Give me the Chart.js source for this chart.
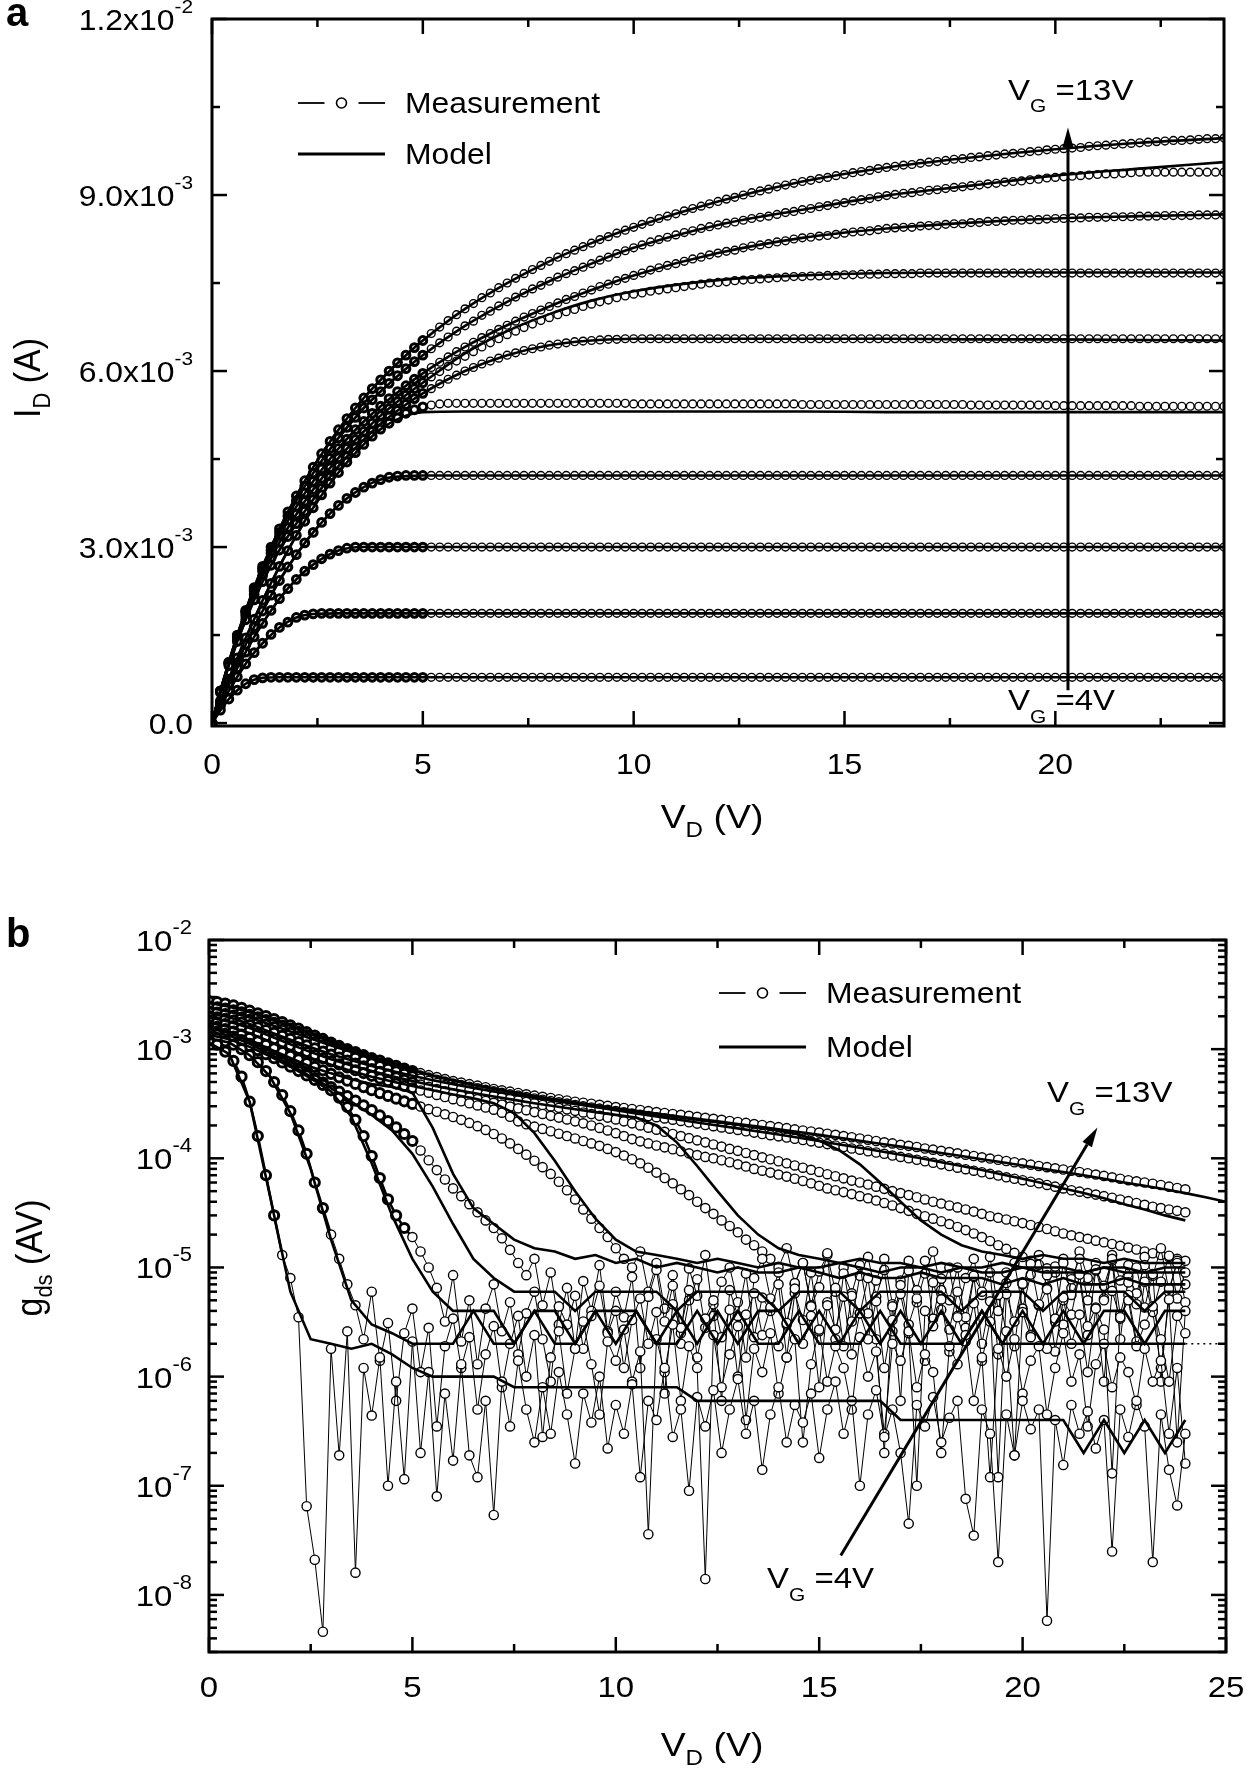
<!DOCTYPE html>
<html>
<head>
<meta charset="utf-8">
<script src="https://cdn.jsdelivr.net/npm/chart.js@4.4.1/dist/chart.umd.min.js"></script>
<style>
html,body{margin:0;padding:0;background:#fff;}
#wrap{position:relative;width:1246px;height:1770px;}
canvas{position:absolute;left:0;top:0;}
</style>
</head>
<body>
<div id="wrap">
<canvas id="chartA" width="1246" height="1770"></canvas>
<canvas id="chartB" width="1246" height="1770"></canvas>
</div>
<script>
// drain voltage grid of the measurement (V)
const VD = [
0,0.2,0.4,0.6,0.8,1,1.2,1.4,1.6,1.8,
2,2.2,2.4,2.6,2.8,3,3.2,3.4,3.6,3.8,
4,4.2,4.4,4.6,4.8,5,5.2,5.4,5.6,5.8,
6,6.2,6.4,6.6,6.8,7,7.2,7.4,7.6,7.8,
8,8.2,8.4,8.6,8.8,9,9.2,9.4,9.6,9.8,
10,10.2,10.4,10.6,10.8,11,11.2,11.4,11.6,11.8,
12,12.2,12.4,12.6,12.8,13,13.2,13.4,13.6,13.8,
14,14.2,14.4,14.6,14.8,15,15.2,15.4,15.6,15.8,
16,16.2,16.4,16.6,16.8,17,17.2,17.4,17.6,17.8,
18,18.2,18.4,18.6,18.8,19,19.2,19.4,19.6,19.8,
20,20.2,20.4,20.6,20.8,21,21.2,21.4,21.6,21.8,
22,22.2,22.4,22.6,22.8,23,23.2,23.4,23.6,23.8,
24];

// panel a, measured I_D in mA, one array per V_G
const idMeas4 = [
0,0.22,0.41,0.56,0.67,0.74,0.77,0.78,0.78,0.78,
0.78,0.78,0.78,0.78,0.78,0.78,0.78,0.78,0.78,0.78,
0.78,0.78,0.78,0.78,0.78,0.78,0.78,0.78,0.78,0.78,
0.78,0.78,0.78,0.78,0.78,0.78,0.78,0.78,0.78,0.78,
0.78,0.78,0.78,0.78,0.78,0.78,0.78,0.78,0.78,0.78,
0.78,0.78,0.78,0.78,0.78,0.78,0.78,0.78,0.78,0.78,
0.78,0.78,0.78,0.78,0.78,0.78,0.78,0.78,0.78,0.78,
0.78,0.78,0.78,0.78,0.78,0.78,0.78,0.78,0.78,0.78,
0.78,0.78,0.78,0.78,0.78,0.78,0.78,0.78,0.78,0.78,
0.78,0.78,0.78,0.78,0.78,0.78,0.78,0.78,0.78,0.78,
0.78,0.78,0.78,0.78,0.78,0.78,0.78,0.78,0.78,0.78,
0.78,0.78,0.78,0.78,0.78,0.78,0.78,0.78,0.78,0.78,
0.78];
const idMeas5 = [
0,0.29,0.55,0.79,1.01,1.20,1.36,1.51,1.63,1.72,
1.80,1.84,1.86,1.87,1.87,1.87,1.87,1.87,1.87,1.87,
1.87,1.87,1.87,1.87,1.87,1.87,1.87,1.87,1.87,1.87,
1.87,1.87,1.87,1.87,1.87,1.87,1.87,1.87,1.87,1.87,
1.87,1.87,1.87,1.87,1.87,1.87,1.87,1.87,1.87,1.87,
1.87,1.87,1.87,1.87,1.87,1.87,1.87,1.87,1.87,1.87,
1.87,1.87,1.87,1.87,1.87,1.87,1.87,1.87,1.87,1.87,
1.87,1.87,1.87,1.87,1.87,1.87,1.87,1.87,1.87,1.87,
1.87,1.87,1.87,1.87,1.87,1.87,1.87,1.87,1.87,1.87,
1.87,1.87,1.87,1.87,1.87,1.87,1.87,1.87,1.87,1.87,
1.87,1.87,1.87,1.87,1.87,1.87,1.87,1.87,1.87,1.87,
1.87,1.87,1.87,1.87,1.87,1.87,1.87,1.87,1.87,1.87,
1.87];
const idMeas6 = [
0,0.33,0.65,0.94,1.21,1.47,1.70,1.92,2.12,2.29,
2.45,2.59,2.70,2.80,2.88,2.94,2.98,3.00,3.00,3.00,
3.00,3.00,3.00,3.00,3.00,3.00,3.00,3.00,3.00,3.00,
3.00,3.00,3.00,3.00,3.00,3.00,3.00,3.00,3.00,3.00,
3.00,3.00,3.00,3.00,3.00,3.00,3.00,3.00,3.00,3.00,
3.00,3.00,3.00,3.00,3.00,3.00,3.00,3.00,3.00,3.00,
3.00,3.00,3.00,3.00,3.00,3.00,3.00,3.00,3.00,3.00,
3.00,3.00,3.00,3.00,3.00,3.00,3.00,3.00,3.00,3.00,
3.00,3.00,3.00,3.00,3.00,3.00,3.00,3.00,3.00,3.00,
3.00,3.00,3.00,3.00,3.00,3.00,3.00,3.00,3.00,3.00,
3.00,3.00,3.00,3.00,3.00,3.00,3.00,3.00,3.00,3.00,
3.00,3.00,3.00,3.00,3.00,3.00,3.00,3.00,3.00,3.00,
3.00];
const idMeas7 = [
0,0.36,0.70,1.03,1.34,1.64,1.91,2.18,2.43,2.66,
2.87,3.07,3.25,3.42,3.57,3.71,3.83,3.93,4.02,4.09,
4.15,4.19,4.21,4.22,4.22,4.22,4.22,4.22,4.22,4.22,
4.22,4.22,4.22,4.22,4.22,4.22,4.22,4.22,4.22,4.22,
4.22,4.22,4.22,4.22,4.22,4.22,4.22,4.22,4.22,4.22,
4.22,4.22,4.22,4.22,4.22,4.22,4.22,4.22,4.22,4.22,
4.22,4.22,4.22,4.22,4.22,4.22,4.22,4.22,4.22,4.22,
4.22,4.22,4.22,4.22,4.22,4.22,4.22,4.22,4.22,4.22,
4.22,4.22,4.22,4.22,4.22,4.22,4.22,4.22,4.22,4.22,
4.22,4.22,4.22,4.22,4.22,4.22,4.22,4.22,4.22,4.22,
4.22,4.22,4.22,4.22,4.22,4.22,4.22,4.22,4.22,4.22,
4.22,4.22,4.22,4.22,4.22,4.22,4.22,4.22,4.22,4.22,
4.22];
const idMeas8 = [
0,0.38,0.75,1.11,1.45,1.77,2.09,2.38,2.67,2.94,
3.20,3.44,3.67,3.89,4.09,4.27,4.45,4.61,4.75,4.89,
5.01,5.11,5.20,5.28,5.34,5.39,5.42,5.44,5.45,5.45,
5.45,5.45,5.45,5.45,5.45,5.45,5.45,5.45,5.45,5.45,
5.45,5.45,5.45,5.45,5.45,5.45,5.45,5.45,5.45,5.45,
5.44,5.44,5.44,5.44,5.44,5.44,5.44,5.44,5.44,5.44,
5.44,5.44,5.44,5.44,5.44,5.44,5.44,5.44,5.44,5.44,
5.43,5.43,5.43,5.43,5.43,5.43,5.43,5.43,5.43,5.43,
5.43,5.43,5.43,5.43,5.43,5.43,5.43,5.43,5.43,5.43,
5.42,5.42,5.42,5.42,5.42,5.42,5.42,5.42,5.42,5.42,
5.41,5.41,5.41,5.41,5.41,5.41,5.41,5.41,5.41,5.41,
5.40,5.40,5.40,5.40,5.40,5.40,5.40,5.40,5.40,5.40,
5.40];
const idMeas9 = [
0,0.52,0.98,1.39,1.76,2.10,2.41,2.69,2.95,3.18,
3.40,3.61,3.81,4.00,4.19,4.38,4.54,4.69,4.83,4.97,
5.10,5.22,5.33,5.43,5.53,5.62,5.70,5.78,5.86,5.93,
6.00,6.06,6.12,6.17,6.22,6.27,6.31,6.35,6.38,6.41,
6.44,6.46,6.48,6.50,6.51,6.52,6.53,6.54,6.54,6.55,
6.55,6.55,6.55,6.55,6.55,6.55,6.55,6.55,6.55,6.55,
6.55,6.55,6.55,6.55,6.55,6.55,6.55,6.55,6.55,6.55,
6.55,6.55,6.55,6.55,6.55,6.55,6.55,6.55,6.55,6.55,
6.55,6.55,6.55,6.55,6.55,6.55,6.55,6.55,6.55,6.55,
6.55,6.55,6.55,6.55,6.55,6.55,6.55,6.55,6.55,6.55,
6.55,6.55,6.55,6.55,6.55,6.55,6.55,6.55,6.55,6.55,
6.55,6.55,6.55,6.55,6.55,6.55,6.55,6.55,6.55,6.55,
6.55];
const idMeas10 = [
0,0.54,1.01,1.44,1.83,2.19,2.51,2.81,3.08,3.33,
3.56,3.78,3.98,4.17,4.35,4.52,4.68,4.83,4.97,5.11,
5.24,5.36,5.48,5.59,5.70,5.80,5.90,5.99,6.08,6.17,
6.25,6.33,6.41,6.48,6.55,6.62,6.68,6.74,6.80,6.86,
6.91,6.96,7.01,7.05,7.10,7.14,7.18,7.21,7.25,7.28,
7.31,7.33,7.36,7.38,7.40,7.42,7.44,7.46,7.48,7.50,
7.51,7.52,7.54,7.55,7.56,7.57,7.58,7.59,7.60,7.61,
7.61,7.62,7.62,7.63,7.63,7.64,7.64,7.65,7.65,7.65,
7.66,7.66,7.66,7.66,7.67,7.67,7.67,7.67,7.67,7.67,
7.67,7.67,7.67,7.67,7.67,7.67,7.67,7.67,7.67,7.67,
7.67,7.67,7.67,7.67,7.67,7.67,7.67,7.67,7.67,7.67,
7.67,7.67,7.67,7.67,7.67,7.67,7.67,7.67,7.67,7.67,
7.67];
const idMeas11 = [
0,0.54,1.02,1.47,1.88,2.25,2.59,2.90,3.18,3.45,
3.69,3.92,4.12,4.33,4.51,4.68,4.84,5.00,5.14,5.28,
5.40,5.53,5.65,5.75,5.86,5.96,6.06,6.15,6.24,6.33,
6.41,6.49,6.57,6.64,6.71,6.78,6.85,6.92,6.98,7.04,
7.10,7.16,7.22,7.27,7.33,7.38,7.44,7.48,7.54,7.58,
7.63,7.67,7.72,7.76,7.80,7.83,7.87,7.91,7.94,7.98,
8.01,8.04,8.06,8.10,8.13,8.15,8.17,8.20,8.22,8.25,
8.27,8.28,8.30,8.31,8.33,8.35,8.37,8.38,8.39,8.41,
8.43,8.44,8.45,8.45,8.47,8.48,8.48,8.50,8.51,8.51,
8.53,8.53,8.55,8.55,8.56,8.57,8.57,8.58,8.58,8.59,
8.60,8.60,8.61,8.61,8.62,8.62,8.62,8.63,8.63,8.63,
8.64,8.64,8.64,8.65,8.65,8.65,8.65,8.66,8.66,8.66,
8.66];
const idMeas12 = [
0,0.55,1.03,1.49,1.90,2.28,2.63,2.95,3.25,3.53,
3.79,4.04,4.26,4.48,4.68,4.86,5.04,5.21,5.37,5.51,
5.65,5.79,5.92,6.04,6.16,6.27,6.38,6.48,6.58,6.68,
6.77,6.85,6.95,7.02,7.11,7.18,7.26,7.33,7.40,7.46,
7.53,7.60,7.66,7.71,7.77,7.83,7.89,7.94,8.00,8.05,
8.10,8.15,8.20,8.24,8.28,8.32,8.36,8.39,8.43,8.46,
8.49,8.52,8.54,8.57,8.60,8.62,8.64,8.67,8.70,8.72,
8.75,8.77,8.80,8.82,8.85,8.87,8.90,8.92,8.94,8.97,
8.99,9.01,9.03,9.04,9.06,9.08,9.09,9.11,9.13,9.14,
9.16,9.17,9.19,9.20,9.22,9.23,9.24,9.26,9.27,9.29,
9.30,9.31,9.32,9.33,9.34,9.35,9.36,9.36,9.37,9.38,
9.39,9.39,9.39,9.39,9.39,9.39,9.39,9.39,9.39,9.39,
9.39];
const idMeas13 = [
0,0.55,1.04,1.50,1.92,2.31,2.67,3.00,3.31,3.60,
3.87,4.13,4.36,4.59,4.80,5.00,5.19,5.37,5.54,5.70,
5.85,6.00,6.14,6.27,6.40,6.52,6.64,6.75,6.86,6.96,
7.06,7.15,7.25,7.33,7.42,7.50,7.58,7.66,7.73,7.80,
7.87,7.94,8.00,8.06,8.12,8.18,8.24,8.29,8.35,8.40,
8.45,8.50,8.55,8.60,8.64,8.68,8.73,8.77,8.81,8.85,
8.89,8.93,8.96,9.00,9.04,9.07,9.10,9.14,9.17,9.20,
9.23,9.25,9.28,9.30,9.33,9.35,9.38,9.40,9.42,9.45,
9.47,9.49,9.51,9.52,9.54,9.56,9.57,9.59,9.61,9.62,
9.64,9.65,9.67,9.68,9.70,9.71,9.72,9.74,9.75,9.77,
9.78,9.79,9.80,9.81,9.83,9.84,9.85,9.86,9.87,9.88,
9.89,9.90,9.91,9.92,9.93,9.93,9.94,9.95,9.96,9.96,
9.97];

// panel a, model I_D in mA on a coarser grid
const VD_MODEL_A = [0,0.2,0.4,0.6,0.8,1,1.2,1.6,2,2.4,3,3.6,4,4.6,5,6,7,8,9,10,12,14,16,18,20,22,24];
const idModel4 = [0,0.22,0.41,0.56,0.67,0.74,0.77,0.78,0.78,0.78,0.78,0.78,0.78,0.78,0.78,0.78,0.78,0.78,0.78,0.78,0.78,0.78,0.78,0.78,0.78,0.78,0.78];
const idModel5 = [0,0.29,0.55,0.79,1.01,1.20,1.36,1.63,1.80,1.86,1.87,1.87,1.87,1.87,1.87,1.87,1.87,1.87,1.87,1.87,1.87,1.87,1.87,1.87,1.87,1.87,1.87];
const idModel6 = [0,0.33,0.65,0.94,1.21,1.47,1.70,2.12,2.45,2.70,2.94,3.00,3.00,3.00,3.00,3.00,3.00,3.00,3.00,3.00,3.00,3.00,3.00,3.00,3.00,3.00,3.00];
const idModel7 = [0,0.36,0.70,1.03,1.34,1.64,1.91,2.43,2.87,3.25,3.71,4.02,4.15,4.21,4.22,4.22,4.22,4.22,4.22,4.22,4.22,4.22,4.22,4.22,4.22,4.22,4.22];
const idModel8 = [0,0.38,0.75,1.11,1.45,1.77,2.09,2.67,3.20,3.67,4.27,4.75,5.01,5.24,5.30,5.31,5.31,5.31,5.31,5.31,5.31,5.31,5.30,5.30,5.30,5.30,5.30];
const idModel9 = [0,0.52,0.98,1.39,1.76,2.10,2.41,2.95,3.40,3.81,4.38,4.83,5.10,5.43,5.62,6.00,6.27,6.44,6.52,6.55,6.55,6.55,6.55,6.54,6.54,6.53,6.52];
const idModel10 = [0,0.54,1.01,1.44,1.83,2.19,2.51,3.08,3.56,3.98,4.52,4.97,5.24,5.59,5.80,6.30,6.68,6.97,7.20,7.36,7.55,7.63,7.67,7.68,7.68,7.68,7.68];
const idModel11 = [0,0.54,1.02,1.47,1.88,2.25,2.59,3.18,3.69,4.12,4.68,5.14,5.40,5.75,5.96,6.41,6.78,7.10,7.38,7.63,8.01,8.27,8.43,8.53,8.60,8.64,8.67];
const idModel12 = [0,0.55,1.03,1.49,1.90,2.28,2.63,3.25,3.79,4.26,4.86,5.37,5.65,6.04,6.27,6.77,7.18,7.53,7.83,8.10,8.49,8.75,8.99,9.16,9.33,9.45,9.56];
const idModel13 = [0,0.55,1.04,1.50,1.92,2.31,2.67,3.31,3.87,4.36,5.00,5.54,5.85,6.27,6.52,7.06,7.50,7.87,8.18,8.45,8.89,9.23,9.47,9.64,9.78,9.89,9.97];

// panel b, measured g_ds in uA/V on the VD grid
const gdsMeas4 = [
1200,1100,950,780,560,330,160,70,30,13,
8,3.5,0.065,0.021,0.0046,1.8,0.19,2.6,0.016,1.2,
0.44,1.5,0.10,0.9,0.115,2.1,0.2,1.1,0.08,0.7,
0.17,1.3,0.19,0.12,0.6,0.054,0.9,0.35,1.4,0.5,
0.25,0.8,0.3,1.1,0.45,0.16,0.7,0.38,1.0,0.22,
0.55,0.3,0.85,0.12,0.6,0.4,1.2,0.28,0.5,0.09,
0.65,0.35,0.75,0.2,0.5,0.95,0.3,0.6,0.14,0.45,
0.8,0.25,0.55,0.38,0.7,0.18,0.5,0.9,0.3,0.6,
0.1,0.45,0.75,0.28,0.5,0.2,0.045,0.55,0.35,0.65,
0.25,0.42,0.6,0.076,0.035,0.5,0.3,0.02,0.45,0.19,
0.6,0.33,0.5,0.0058,0.4,0.155,0.55,0.3,0.48,0.22,
0.4,0.025,0.5,0.28,0.6,0.35,0.02,0.45,0.14,0.066,
0.3];
const gdsMeas5 = [
1300,1250,1180,1100,1000,880,760,630,500,380,
270,180,110,60,35,20,12,7,4.5,2.2,
6.0,1.4,3.1,0.6,2.5,4.2,1.1,2.8,0.35,1.9,
3.4,1.2,2.3,0.5,1.6,2.9,0.8,2.0,3.6,1.0,
2.4,0.28,1.5,2.6,0.7,1.8,3.2,1.3,0.45,2.1,
1.4,2.7,0.9,1.7,0.036,2.2,1.1,3.0,0.6,1.9,
1.2,0.014,2.4,0.8,1.6,2.9,0.4,1.8,1.1,2.5,
0.7,1.5,2.2,0.25,1.3,2.7,0.9,1.9,1.2,0.5,
2.3,1.0,1.7,0.3,2.0,1.4,2.6,0.8,1.6,1.1,
0.2,1.9,1.3,2.4,0.6,1.5,0.12,1.8,1.0,2.2,
0.7,1.4,1.9,0.45,1.2,2.5,0.9,1.6,0.35,1.3,
2.0,0.8,1.5,1.1,0.55,1.8,0.9,1.4,0.3,1.2,
0.16];
const gdsMeas6 = [
1400,1360,1300,1230,1150,1065,980,900,825,755,
690,630,575,522,470,420,360,295,225,160,
105,66,42,30,23,19,14,10,6.5,3.2,
8.5,2.1,5.0,1.3,4.2,7.0,2.6,4.8,1.6,3.8,
6.0,2.2,0.9,4.4,3.0,5.5,1.8,3.6,6.8,2.5,
4.0,1.2,3.3,5.2,2.0,3.9,0.7,4.6,2.8,6.2,
1.5,3.4,5.0,2.3,4.1,1.0,3.7,5.8,2.4,4.3,
1.9,3.1,6.4,2.0,3.6,0.8,4.5,2.7,5.4,1.6,
3.8,2.2,4.9,1.2,3.3,5.7,2.5,0.1,4.0,2.9,
5.1,1.7,3.5,2.1,4.7,1.4,3.2,5.6,2.6,0.19,
3.9,2.3,4.6,1.8,3.4,5.3,2.0,3.7,1.1,4.2,
2.7,0.13,3.5,5.0,1.9,3.0,4.4,2.2,0.9,3.6,
2.5];
const gdsMeas7 = [
1500,1450,1380,1300,1210,1120,1030,945,865,790,
720,655,596,542,493,449,409,372,338,306,
276,247,219,192,167,144,118,96,78,64,
53,45,38,32,27,23,18.5,14.5,11,8.5,
12,4.5,9.0,3.0,6.5,1.8,7.5,4.0,10.5,2.6,
6.0,3.5,8.2,1.2,5.4,9.5,3.2,6.8,2.0,5.0,
7.8,2.8,4.6,0.6,6.2,3.6,8.8,2.3,5.3,4.0,
7.0,1.5,5.8,3.3,9.0,2.6,4.8,6.5,1.9,5.5,
3.8,8.0,2.2,0.2,4.4,6.9,3.0,5.2,1.4,7.3,
4.1,2.7,6.0,3.5,8.4,2.0,4.9,0.12,5.7,3.2,
7.1,2.4,4.5,6.3,1.7,5.0,3.7,8.6,2.9,4.3,
0.9,6.1,3.4,5.6,2.1,7.4,3.9,1.2,5.1,0.25,
4.0];
const gdsMeas8 = [
1650,1600,1530,1450,1360,1270,1180,1095,1015,940,
870,805,745,690,640,594,552,514,480,449,
421,396,373,352,333,315,298,282,267,253,
239,225,211,197,182,167,152,137,122,108,
95,83,72,61,51,42,34,28,23,19,
15,12,10,14,6.0,11,4.2,8.5,2.5,9.8,
5.5,13,3.6,7.4,10,4.8,1.5,8.0,12,5.2,
9.0,3.0,7.2,11,4.4,6.6,13.5,2.2,8.8,5.8,
10.5,3.8,7.6,12,4.6,0.6,9.4,6.2,11.5,3.4,
7.9,5.0,10,2.8,8.2,6.0,12.5,4.0,9.0,1.9,
7.0,10.8,4.5,8.5,3.2,11,5.6,7.8,2.4,9.6,
5.0,12,3.7,7.3,10,4.3,8.7,0.9,6.4,11,
4.8];
const gdsMeas9 = [
1800,1760,1700,1630,1550,1470,1390,1310,1230,1150,
1075,1005,940,880,825,773,725,681,641,604,
570,539,510,484,460,438,418,399,381,364,
348,333,319,305,292,279,262,240,218,205,
195,186,177,168,160,152,144,137,130,122,
114,106,98,90,82,74,66,59,52,46,
40,35,31,27,24,21,18,16,14,12,
10,15,7.0,11,4.5,9.2,13,6.0,10,3.2,
8.4,12.5,5.4,9.5,2.6,7.6,11.5,4.8,8.8,14,
6.2,10,3.6,8.0,12,5.6,9.0,1.6,7.2,11,
4.2,8.6,13,6.5,10.2,3.0,7.8,12,5.0,9.4,
6.8,11.6,2.2,8.2,5.8,10.5,4.0,7.4,12.8,5.2,
9.0];
const gdsMeas10 = [
2000,1960,1900,1830,1750,1665,1580,1495,1410,1325,
1240,1160,1085,1015,950,890,835,785,738,695,
655,618,584,553,524,497,473,451,430,411,
393,377,362,348,335,322,310,298,287,276,
265,255,245,236,227,218,209,200,190,180,
170,160,150,143,137,131,126,121,116,111,
107,103,100,96,92,88,84,80,77,74,
71,68,65,62,59,56,53,51,49,47,
45,43,41,39,37,35,33,31,29.5,28,
26.5,25,23.5,22,20.5,19,17.5,16,14.8,13.6,
12.5,11.5,10.6,9.8,9.0,12,6.5,14,8.0,11,
5.2,13,7.6,10.5,4.6,12.5,8.4,15,6.0,11.5,
7.0];
const gdsMeas11 = [
2200,2160,2100,2030,1950,1860,1770,1680,1590,1500,
1410,1320,1240,1160,1085,1015,950,890,835,785,
740,698,660,625,593,563,537,513,490,469,
450,433,417,402,388,375,362,350,339,328,
318,308,299,290,281,272,263,254,245,236,
227,218,209,200,191,183,175,167,160,153,
146,140,134,128,122,117,112,107,102,98,
94,90,86,82,78.5,75,71.5,68.5,65.5,62.5,
60,57.5,55,52.5,50,48,46,44,42,40,
38.5,37,35.5,34,32.5,31,29.5,28.5,27.5,26.5,
25.5,24.5,23.5,22.5,21.5,20.5,19.7,19,18.3,17.6,
17,16.4,15.8,15.2,14.6,14,13.5,13,12.5,12,
11.5];
const gdsMeas12 = [
2450,2410,2350,2270,2170,2060,1955,1850,1745,1640,
1540,1440,1345,1255,1170,1090,1015,950,890,835,
785,742,702,665,630,598,572,548,525,504,
484,468,453,438,424,410,398,386,375,364,
353,344,335,326,317,308,300,292,285,278,
271,264,257,250,244,238,232,226,220,214,
208,202,197,192,187,182,177,172,167,163,
159,155,151,147,143,139,135,131,127,123,
120,116,113,110,106,103,100,97,94,91,
88,85,82,79.5,77,74.5,72,69.5,67,65,
63,61,59,57,55,53,51,49.5,48,46.5,
45,43.5,42,40.5,39,37.5,36,35,34,33,
32];
const gdsMeas13 = [
2750,2700,2620,2520,2390,2250,2130,2010,1890,1770,
1650,1540,1430,1330,1240,1150,1070,1000,940,880,
830,785,742,702,665,630,603,578,555,532,
510,494,478,463,448,432,420,408,397,386,
375,366,357,348,339,330,323,316,309,302,
295,289,283,277,271,265,260,255,250,245,
240,235,230,225,220,215,211,206,202,197,
193,189,184,180,176,172,168,164,160,156,
152,148,144,140,137,133,130,127,123,120,
117,114,111,108,105,102,99.5,97,94.5,92,
90,87.5,85,83,81,79,77,75,73,71,
69,67,65,63,61.5,60,58.5,57,55,53.5,
52];

// panel b, model g_ds in uA/V on a 0.5 V grid
const VD_MODEL_B = [
0,0.5,1,1.5,2,2.5,3,3.5,4,4.5,
5,5.5,6,6.5,7,7.5,8,8.5,9,9.5,
10,10.5,11,11.5,12,12.5,13,13.5,14,14.5,
15,15.5,16,16.5,17,17.5,18,18.5,19,19.5,
20,20.5,21,21.5,22,22.5,23,23.5,24,24.5,
25];
const gdsModel4 = [1150,900,330,45,6,2.2,2.0,1.8,2.0,1.6,1.2,1.0,1.0,1.0,1.0,0.8,0.8,0.8,0.8,0.8,0.8,0.8,0.8,0.8,0.6,0.6,0.6,0.6,0.6,0.6,0.6,0.6,0.6,0.6,0.4,0.4,0.4,0.4,0.4,0.4,0.4,0.4,0.4,0.2,0.4,0.2,0.4,0.2,0.4];
const gdsModel5 = [1250,1150,880,560,260,80,18,5,3,2.5,2,2,2,4,2,2,4,2,2,4,2,4,2,2,4,2,4,2,2,4,2,2,2,4,2,2,2,2,4,2,2,2,2,2,2,2,2,2,2,2,2];
const gdsModel6 = [1350,1230,1050,860,690,540,410,240,90,30,12,6,4,4,4,2,4,4,2,4,4,4,2,4,2,4,2,4,4,2,4,2,4,2,4,2,4,2,4,2,4,2,4,2,4,4,2,4,4];
const gdsModel7 = [1450,1330,1120,900,720,560,440,330,250,180,110,55,25,12,8,6,6,6,4,6,6,6,6,4,6,6,6,6,4,6,6,6,4,6,6,6,6,4,6,6,6,4,6,6,6,6,4,6,6];
const gdsModel8 = [1600,1450,1220,1000,830,690,600,530,480,450,400,190,72,35,25,18,15,14,12,13,11,12,10,11,10,9,10,9,9,10,9,8,9,8,8,9,8,8,8,7,8,7,8,7,7,8,7,7,7];
const gdsModel9 = [1750,1600,1400,1170,980,830,720,630,560,505,460,420,385,355,320,260,170,95,50,28,18,14,13,12,11,12,11,10,11,10,10,11,10,9,10,10,9,10,9,9,10,9,9,9,10,9,9,9,9];
const gdsModel10 = [1950,1780,1560,1320,1110,940,810,710,630,565,510,465,428,396,368,343,320,300,282,265,250,236,200,140,85,50,30,20,15,13,12,11,12,11,11,10,11,10,10,11,10,10,10,9,10,10,9,10,10];
const gdsModel11 = [2150,1960,1700,1440,1220,1040,900,790,700,630,570,520,478,442,410,382,357,335,315,297,280,265,251,238,226,214,203,192,180,165,145,118,88,60,40,27,20,16,14,13,12,13,12,12,11,12,11,11,11];
const gdsModel12 = [2400,2200,1950,1680,1450,1250,1080,940,820,720,640,575,520,475,435,400,370,343,318,296,276,258,242,227,213,200,188,176,165,154,144,134,125,116,108,100,92,85,78,71,65,59,53,48,43,38,34,30,27];
const gdsModel13 = [2650,2450,2180,1900,1630,1380,1160,980,840,730,640,570,515,470,432,400,372,348,326,306,288,272,257,243,230,218,206,195,184,174,164,154,145,136,128,120,112,105,98,92,86,80,75,70,65,60,56,52,48,44,40];

// axes and tick labels
const xTicksA = [0, 5, 10, 15, 20];
const xTickLabelsA = ['0', '5', '10', '15', '20'];
const yTicksA = [0, 0.003, 0.006, 0.009, 0.012];
const yTickLabelsA = [['0.0', ''], ['3.0x10', '-3'], ['6.0x10', '-3'], ['9.0x10', '-3'], ['1.2x10', '-2']];
const xTicksB = [0, 5, 10, 15, 20, 25];
const xTickLabelsB = ['0', '5', '10', '15', '20', '25'];
const yTicksB = [1e-2, 1e-3, 1e-4, 1e-5, 1e-6, 1e-7, 1e-8];
const yTickLabelsB = [['10', '-2'], ['10', '-3'], ['10', '-4'], ['10', '-5'], ['10', '-6'], ['10', '-7'], ['10', '-8']];

// V_G arrows, in data units: [x0, y0, x1, y1]
const arrowA = [20.3, 0.00056, 20.3, 0.01015];
const arrowB = [15.53, 2.3e-8, 21.84, 1.92e-4];

const FONT = '"Liberation Sans", Arial, Helvetica, sans-serif';
const STRETCH = 1.1; // the original figure is a little wider than tall

function pts(xs, ys, k) {
  return ys.map((y, i) => ({ x: xs[i], y: y * k }));
}

function rich(ctx, x, y, parts, align, rotate) {
  let w = 0;
  parts.forEach(p => { ctx.font = p[1] + 'px ' + FONT; w += ctx.measureText(p[0]).width; });
  ctx.save();
  ctx.translate(x, y);
  ctx.scale(STRETCH, 1);
  if (rotate) ctx.rotate(-Math.PI / 2);
  let cx = align === 'right' ? -w : (align === 'center' ? -w / 2 : 0);
  parts.forEach(p => {
    ctx.font = p[1] + 'px ' + FONT;
    ctx.fillText(p[0], cx, p[2] || 0);
    cx += ctx.measureText(p[0]).width;
  });
  ctx.restore();
}

function seg(ctx, x1, y1, x2, y2) {
  ctx.beginPath(); ctx.moveTo(x1, y1); ctx.lineTo(x2, y2); ctx.stroke();
}

function arrow(ctx, x0, y0, x1, y1) {
  const ang = Math.atan2(y1 - y0, x1 - x0), L = 20, W = 5.5;
  const bx = x1 - L * Math.cos(ang), by = y1 - L * Math.sin(ang);
  ctx.lineWidth = 3;
  seg(ctx, x0, y0, bx, by);
  ctx.beginPath();
  ctx.moveTo(x1, y1);
  ctx.lineTo(bx + W * Math.sin(ang), by - W * Math.cos(ang));
  ctx.lineTo(bx - W * Math.sin(ang), by + W * Math.cos(ang));
  ctx.closePath(); ctx.fill();
}

function legend(ctx, x0, x1, yM, yL, r) {
  const xc = (x0 + x1) / 2;
  ctx.lineWidth = 1.8;
  seg(ctx, x0, yM, xc - r - 12, yM);
  seg(ctx, xc + r + 12, yM, x1, yM);
  ctx.beginPath(); ctx.arc(xc, yM, r, 0, Math.PI * 2); ctx.lineWidth = 1.6; ctx.stroke();
  ctx.lineWidth = 3.2;
  seg(ctx, x0, yL, x1, yL);
  rich(ctx, x1 + 20, yM + 10, [['Measurement', 29, 0]], 'left');
  rich(ctx, x1 + 20, yL + 10, [['Model', 29, 0]], 'left');
}

const AXES = {
  chartA: {
    xMajor: xTicksA, xMinor: [2.5, 7.5, 12.5, 17.5, 22.5], xLabels: xTickLabelsA,
    yMajor: yTicksA, yMinor: [0.0015, 0.0045, 0.0075, 0.0105], yLabels: yTickLabelsA,
    xLabelY: 774, yLabelX: 193, size: 29, supSize: 19
  },
  chartB: {
    xMajor: xTicksB, xMinor: [2.5, 7.5, 12.5, 17.5, 22.5], xLabels: xTickLabelsB,
    yMajor: yTicksB, yMinor: [], yLabels: yTickLabelsB,
    xLabelY: 1697, yLabelX: 192, size: 30, supSize: 20
  }
};
for (let e = -9; e <= -3; e++) {
  for (let m = 2; m <= 9; m++) {
    const v = m * Math.pow(10, e);
    if (v >= 3e-9 && v < 1e-2) AXES.chartB.yMinor.push(v);
  }
}

function drawAxes(chart, ax) {
  const ctx = chart.ctx, a = chart.chartArea, sx = chart.scales.x, sy = chart.scales.y;
  ctx.lineWidth = 2.5;
  const tick = (vals, len, isX) => vals.forEach(v => {
    if (isX) {
      const p = sx.getPixelForValue(v);
      seg(ctx, p, a.bottom, p, a.bottom - len); seg(ctx, p, a.top, p, a.top + len);
    } else {
      const p = sy.getPixelForValue(v);
      seg(ctx, a.left, p, a.left + len, p); seg(ctx, a.right, p, a.right - len, p);
    }
  });
  tick(ax.xMajor, 15, true); tick(ax.xMinor, 8, true);
  tick(ax.yMajor, 15, false); tick(ax.yMinor, 8, false);
  ctx.lineWidth = 3;
  ctx.strokeRect(a.left, a.top, a.right - a.left, a.bottom - a.top);
  ax.xMajor.forEach((v, i) => rich(ctx, sx.getPixelForValue(v), ax.xLabelY, [[ax.xLabels[i], ax.size, 0]], 'center'));
  ax.yMajor.forEach((v, i) => {
    const p = sy.getPixelForValue(v), l = ax.yLabels[i];
    rich(ctx, ax.yLabelX, p + 11, [[l[0], ax.size, 0], [l[1], ax.supSize, -17]], 'right');
  });
}

const DECOR = {
  chartA(chart, ctx) {
    const sx = chart.scales.x, sy = chart.scales.y;
    ctx.font = 'bold 40px ' + FONT;
    ctx.fillText('a', 6, 26);
    rich(ctx, 712, 828, [['V', 34, 0], ['D', 22, 9], [' (V)', 34, 0]], 'center');
    rich(ctx, 40, 378, [['I', 34, 0], ['D', 22, 9], [' (A)', 34, 0]], 'center', true);
    legend(ctx, 298, 385, 103, 154, 5);
    rich(ctx, 1008, 100, [['V', 30, 0], ['G', 19, 12], [' =13V', 30, 0]], 'left');
    rich(ctx, 1008, 710, [['V', 30, 0], ['G', 19, 13], [' =4V', 30, 0]], 'left');
    arrow(ctx, sx.getPixelForValue(arrowA[0]), sy.getPixelForValue(arrowA[1]), sx.getPixelForValue(arrowA[2]), sy.getPixelForValue(arrowA[3]));
  },
  chartB(chart, ctx) {
    const sx = chart.scales.x, sy = chart.scales.y;
    ctx.font = 'bold 40px ' + FONT;
    ctx.fillText('b', 6, 947);
    rich(ctx, 712, 1756, [['V', 34, 0], ['D', 22, 9], [' (V)', 34, 0]], 'center');
    rich(ctx, 42, 1258, [['g', 34, 0], ['ds', 22, 9], [' (AV)', 34, 0]], 'center', true);
    legend(ctx, 719, 806, 993, 1047, 5);
    rich(ctx, 1047, 1102, [['V', 30, 0], ['G', 19, 13], [' =13V', 30, 0]], 'left');
    rich(ctx, 767, 1588, [['V', 30, 0], ['G', 19, 13], [' =4V', 30, 0]], 'left');
    arrow(ctx, sx.getPixelForValue(arrowB[0]), sy.getPixelForValue(arrowB[1]), sx.getPixelForValue(arrowB[2]), sy.getPixelForValue(arrowB[3]));
  }
};

const framePlugin = {
  id: 'frame',
  afterDatasetsDraw(chart) {
    const ctx = chart.ctx;
    ctx.save();
    ctx.strokeStyle = '#000'; ctx.fillStyle = '#000';
    ctx.textAlign = 'left'; ctx.textBaseline = 'alphabetic';
    drawAxes(chart, AXES[chart.canvas.id]);
    DECOR[chart.canvas.id](chart, ctx);
    ctx.restore();
  }
};

// below 5 V the measurement was taken much more densely, so the smooth part reads darker there
function measSet(data, r, yDense) {
  const dense = c => c.raw && c.raw.x <= 5 && c.raw.y > yDense;
  return {
    data, showLine: true, borderColor: '#000', borderWidth: 1, fill: false,
    pointRadius: r,
    pointBorderWidth: c => dense(c) ? 3 : 1.4,
    pointBorderColor: '#000', pointBackgroundColor: '#fff',
    segment: { borderWidth: c => (c.p0.parsed.x < 5 && c.p0.parsed.y > yDense) ? 2.5 : undefined },
    order: 2, clip: 0
  };
}
function modelSet(data, smooth, dashFrom) {
  const s = {
    data, showLine: true, borderColor: '#000', borderWidth: 2.6, fill: false, pointRadius: 0,
    cubicInterpolationMode: smooth ? 'monotone' : 'default', tension: 0, order: 1, clip: 0
  };
  if (dashFrom !== undefined) s.segment = { borderDash: c => c.p0.parsed.x >= dashFrom ? [2, 4] : undefined, borderWidth: c => c.p0.parsed.x >= dashFrom ? 1.5 : undefined };
  return s;
}

function makeChart(id, datasets, xs, ys, padding) {
  return new Chart(document.getElementById(id), {
    type: 'scatter',
    data: { datasets },
    options: {
      responsive: false, animation: false, devicePixelRatio: 1, events: [],
      layout: { padding },
      scales: { x: Object.assign({ display: false }, xs), y: Object.assign({ display: false }, ys) },
      plugins: { legend: { display: false }, tooltip: { enabled: false } }
    },
    plugins: [framePlugin]
  });
}

const measA = [idMeas4, idMeas5, idMeas6, idMeas7, idMeas8, idMeas9, idMeas10, idMeas11, idMeas12, idMeas13];
const modelA = [idModel4, idModel5, idModel6, idModel7, idModel8, idModel9, idModel10, idModel11, idModel12, idModel13];
const setsA = [];
measA.forEach(m => setsA.push(measSet(pts(VD, m, 1e-3), 3.9, -1)));
modelA.forEach(m => setsA.push(modelSet(pts(VD_MODEL_A, m, 1e-3), true)));

const measB = [gdsMeas4, gdsMeas5, gdsMeas6, gdsMeas7, gdsMeas8, gdsMeas9, gdsMeas10, gdsMeas11, gdsMeas12, gdsMeas13];
const modelB = [gdsModel4, gdsModel5, gdsModel6, gdsModel7, gdsModel8, gdsModel9, gdsModel10, gdsModel11, gdsModel12, gdsModel13];
const setsB = [];
measB.forEach(m => setsB.push(measSet(pts(VD, m, 1e-6), 4.6, 2e-5)));
modelB.forEach((m, i) => setsB.push(modelSet(pts(VD_MODEL_B, m, 1e-6), false, i === 1 ? 24 : undefined)));

makeChart('chartA', setsA,
  { type: 'linear', min: 0, max: 24 },
  { type: 'linear', min: -0.00005, max: 0.012 },
  { left: 212, right: 22, top: 19, bottom: 1044 });

makeChart('chartB', setsB,
  { type: 'linear', min: 0, max: 25 },
  { type: 'logarithmic', min: 3e-9, max: 1e-2 },
  { left: 209, right: 20, top: 940, bottom: 118 });
</script>
</body>
</html>
